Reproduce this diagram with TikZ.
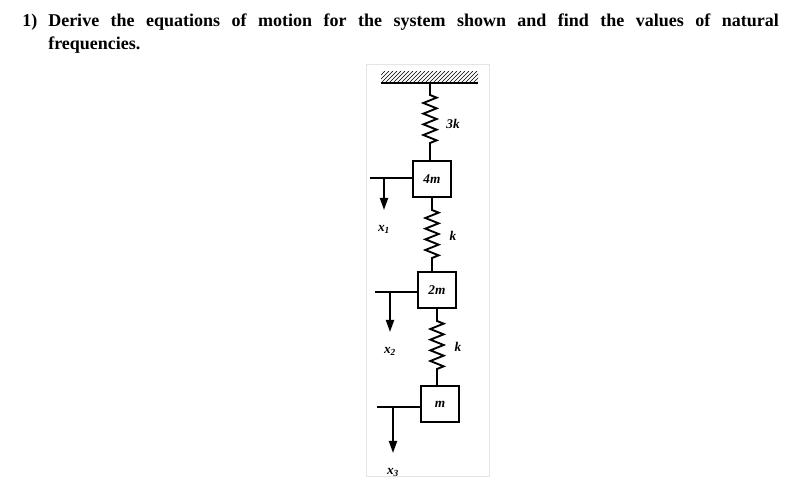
\documentclass[tikz,border=0pt]{standalone}
\usepackage{fontspec}
\setmainfont{Liberation Serif}
\usetikzlibrary{decorations.pathmorphing,patterns,arrows.meta}
\begin{document}
\begin{tikzpicture}[x=0.75pt,y=-0.75pt,
  massbox/.style={draw,line width=1.5pt,minimum width=29pt,minimum height=27pt,inner sep=0pt,font=\bfseries\itshape\normalsize},
  spr/.style={line width=1.4pt,decorate,decoration={zigzag,amplitude=5pt,segment length=8pt,pre length=9pt,post length=9pt}},
  lbl/.style={font=\bfseries\itshape\normalsize},
  arr/.style={line width=1.4pt,-{Triangle[length=9pt,width=6pt]}}]
\useasboundingbox (0,0) rectangle (804,488);
\node[anchor=base west,inner sep=0pt,font=\bfseries\fontsize{13.5pt}{15pt}\selectfont] (num) at (22,27) {1)};
\node[anchor=base west,inner sep=0pt,font=\bfseries\fontsize{13.5pt}{15pt}\selectfont] (l1) at (48,27) {\makebox[548pt][s]{Derive the equations of motion for the system shown and find the values of natural}};
\node[anchor=base west,inner sep=0pt,font=\bfseries\fontsize{13.5pt}{15pt}\selectfont] (l2) at (48,50) {frequencies.};
\draw[gray!20,line width=0.6pt] (366,64) rectangle (489,476);
\fill[pattern=north east lines] (381,72) rectangle (478,82);
\draw[line width=2pt] (381,83) -- (478,83);
\coordinate (top) at (430,83);
\node[massbox] (m1) at (432,179) {4m};
\node[massbox] (m2) at (437,290) {2m};
\node[massbox] (m3) at (440,404) {m};
\draw[spr] (top) -- (m1.north -| top);
\draw[spr] (m1.south) -- (m1.south |- m2.north);
\draw[spr] (m2.south) -- (m2.south |- m3.north);
\node[lbl] (k1) at (453,124) {3k};
\node[lbl] (k2) at (453,236) {k};
\node[lbl] (k3) at (458,347) {k};
\foreach \i/\y/\x/\xa/\ya in {1/178/370/384/210,2/292/375/390/332,3/407/377/393/453}{
  \coordinate (s\i) at (\x,\y);
  \coordinate (a\i) at (\xa,\y);
  \coordinate (e\i) at (\xa,\ya);
  \draw[line width=1.2pt] (s\i) -- (m\i.west |- s\i);
  \draw[arr] (a\i) -- (e\i);
  \node[lbl] (x\i) at (\xa,\ya+19) {x\textsubscript{\i}};
}
\end{tikzpicture}
\end{document}
